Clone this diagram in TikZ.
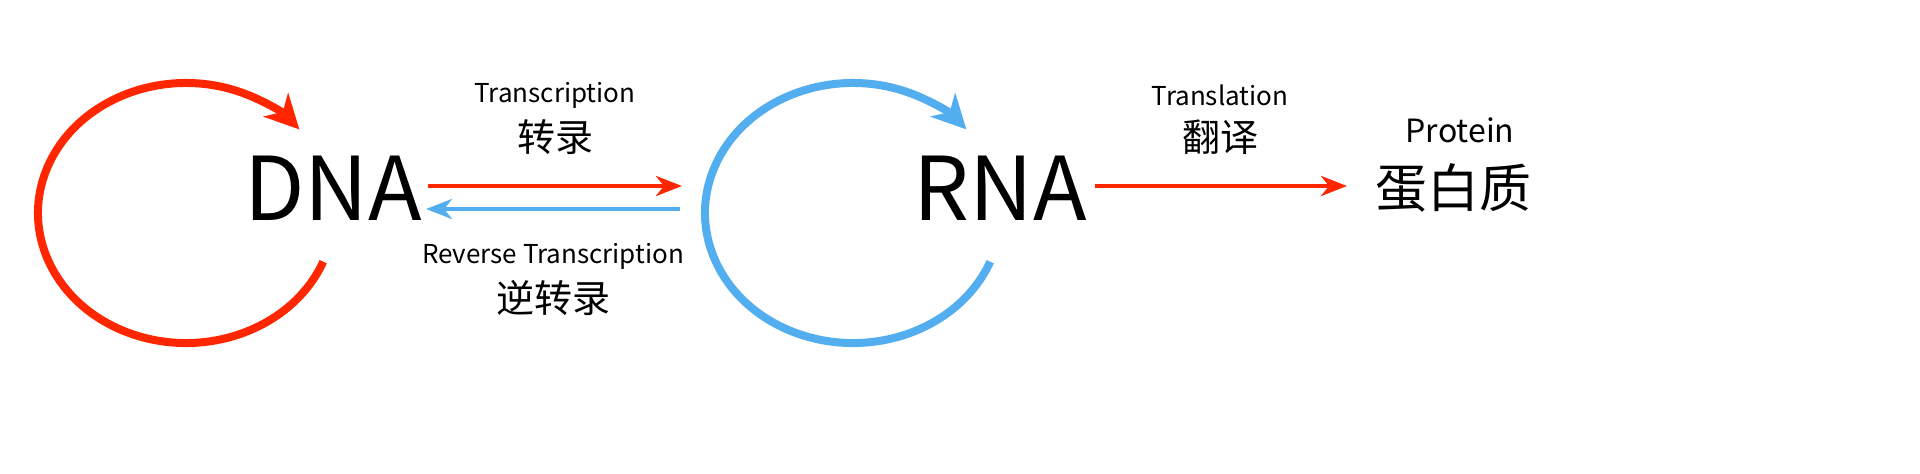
\documentclass[tikz,border=0pt]{standalone}
\usepackage{fontspec}
\setmainfont{Noto Sans CJK SC}
\usetikzlibrary{arrows.meta}
\definecolor{myred}{RGB}{255,38,0}
\definecolor{myblue}{RGB}{82,174,238}
\begin{document}
\begin{tikzpicture}[x=0.5pt,y=-0.5pt,
  loop/.style={line width=4pt,-{Stealth[length=17pt,width=17pt,inset=5pt]}},
  arr/.style={line width=2.2pt,-{Stealth[length=13pt,width=10pt,inset=4pt]}},
  small/.style={font=\fontsize{13}{15}\selectfont},
  cjk/.style={font=\fontsize{19}{22}\selectfont},
  big/.style={font=\fontsize{44}{48}\selectfont}]
\useasboundingbox (0,0) rectangle (1920,473);
\coordinate (dc) at (186,213);
\coordinate (rc) at (853,213);
\draw[loop,myred] ([shift={(22:148 and 130)}]dc) arc[start angle=22,end angle=320,x radius=148,y radius=130];
\draw[loop,myblue] ([shift={(22:148 and 130)}]rc) arc[start angle=22,end angle=320,x radius=148,y radius=130];
\node[big] (dna) at (333,188) {DNA};
\node[big] (rna) at (1000,188) {RNA};
\node[font=\fontsize{16}{18}\selectfont] (prot) at (1460,130) {Protein};
\node[font=\fontsize{26}{30}\selectfont] (dbz) at (1453,188) {蛋白质};
\coordinate (a1) at (428,186); \coordinate (a2) at (682,186);
\coordinate (b1) at (680,209); \coordinate (b2) at (426,209);
\coordinate (c1) at (1095,186); \coordinate (c2) at (1347,186);
\draw[arr,myred] (a1) -- (a2);
\draw[arr,myblue] (b1) -- (b2);
\draw[arr,myred] (c1) -- (c2);
\node[small] (t1) at (555,95) {Transcription};
\node[cjk] (t2) at (555,137) {转录};
\node[small] (r1) at (553,256) {Reverse Transcription};
\node[cjk] (r2) at (553,298) {逆转录};
\node[small] (l1) at (1220,95) {Translation};
\node[cjk] (l2) at (1220,137) {翻译};
\end{tikzpicture}
\end{document}
